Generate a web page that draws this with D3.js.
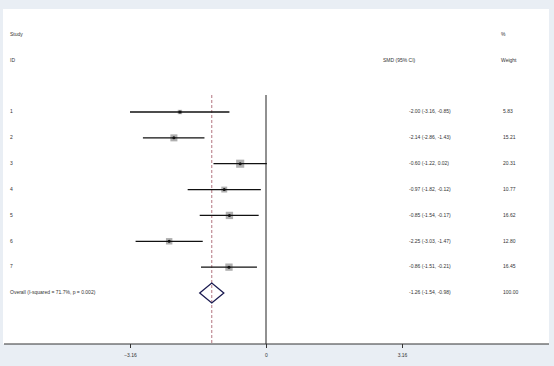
<!DOCTYPE html>
<html><head><meta charset="utf-8">
<script src="https://cdn.jsdelivr.net/npm/d3@7"></script>
<style>body{margin:0;background:#e9eef4;} svg{display:block;}</style>
</head><body>
<script>
const studies = ["1","2","3","4","5","6","7"];
const smd = [-2.00,-2.14,-0.60,-0.97,-0.85,-2.25,-0.86];
const lower = [-3.16,-2.86,-1.22,-1.82,-1.54,-3.03,-1.51];
const upper = [-0.85,-1.43,0.02,-0.12,-0.17,-1.47,-0.21];
const smdText = ["-2.00 (-3.16, -0.85)","-2.14 (-2.86, -1.43)","-0.60 (-1.22, 0.02)","-0.97 (-1.82, -0.12)","-0.85 (-1.54, -0.17)","-2.25 (-3.03, -1.47)","-0.86 (-1.51, -0.21)"];
const weights = ["5.83","15.21","20.31","10.77","16.62","12.80","16.45"];
const weightVals = [5.83,15.21,20.31,10.77,16.62,12.80,16.45];
const overall = {est:-1.26, lo:-1.54, hi:-0.98, label:"Overall  (I-squared = 71.7%, p = 0.002)", text:"-1.26 (-1.54, -0.98)", weight:"100.00"};
const xTicks = [-3.16, 0, 3.16];

const W=554,H=366;
const svg=d3.select("body").append("svg").attr("width",W).attr("height",H);
svg.append("rect").attr("width",W).attr("height",H).attr("fill","#e9eef4");
svg.append("rect").attr("x",3).attr("y",9).attr("width",546).attr("height",335).attr("fill","#ffffff");

const x=d3.scaleLinear().domain([-3.16,3.16]).range([130,402]);
const rows=[...studies,"overall"];
const y=d3.scalePoint().domain(rows).range([112,293]);

const fs=5;
const tcol="#333";
function txt(xp,yp,s,anchor){svg.append("text").attr("x",xp).attr("y",yp).attr("font-family","Liberation Sans, Arial, sans-serif").attr("font-size",fs).attr("fill",tcol).attr("dominant-baseline","middle").attr("text-anchor",anchor||"start").text(s);}
txt(10,35,"Study");txt(10,61,"ID");
txt(383,61,"SMD (95% CI)");txt(501,35,"%");txt(501,61,"Weight");

// zero line
svg.append("line").attr("x1",x(0)).attr("x2",x(0)).attr("y1",95).attr("y2",344).attr("stroke","#222").attr("stroke-width",1);
// overall dashed line
svg.append("line").attr("x1",x(overall.est)).attr("x2",x(overall.est)).attr("y1",95).attr("y2",344).attr("stroke","#a05060").attr("stroke-width",0.8).attr("stroke-dasharray","3,2");

const bs=1.8;
studies.forEach((s,i)=>{
  const yy=y(s);
  const side=bs*Math.sqrt(weightVals[i]);
  svg.append("rect").attr("x",x(smd[i])-side/2).attr("y",yy-side/2).attr("width",side).attr("height",side).attr("fill","#b0b0b0");
  svg.append("line").attr("x1",x(lower[i])).attr("x2",x(upper[i])).attr("y1",yy).attr("y2",yy).attr("stroke","#111").attr("stroke-width",1.3);
  svg.append("circle").attr("cx",x(smd[i])).attr("cy",yy).attr("r",1.5).attr("fill","#111");
  txt(10,yy,s);
  txt(409,yy,smdText[i]);
  txt(503,yy,weights[i]);
});
const oy=y("overall");
svg.append("path").attr("d",`M${x(overall.lo)},${oy}L${x(overall.est)},${oy-10}L${x(overall.hi)},${oy}L${x(overall.est)},${oy+10}Z`).attr("fill","none").attr("stroke","#1a1a50").attr("stroke-width",1.3);
txt(10,oy,overall.label);
txt(409,oy,overall.text);
txt(503,oy,overall.weight);

// axis
const ax=svg.append("g").attr("transform","translate(0,344)").call(d3.axisBottom(x).tickValues(xTicks).tickFormat(d=>d===0?"0":d3.format(".2f")(d)).tickSize(4).tickPadding(5));
ax.select(".domain").attr("d","M4,0H549").attr("stroke","#333");
ax.selectAll(".tick line").attr("stroke","#333");
ax.selectAll("text").attr("font-size",fs).attr("fill",tcol).attr("font-family","Liberation Sans, Arial, sans-serif");
</script>
</body></html>
